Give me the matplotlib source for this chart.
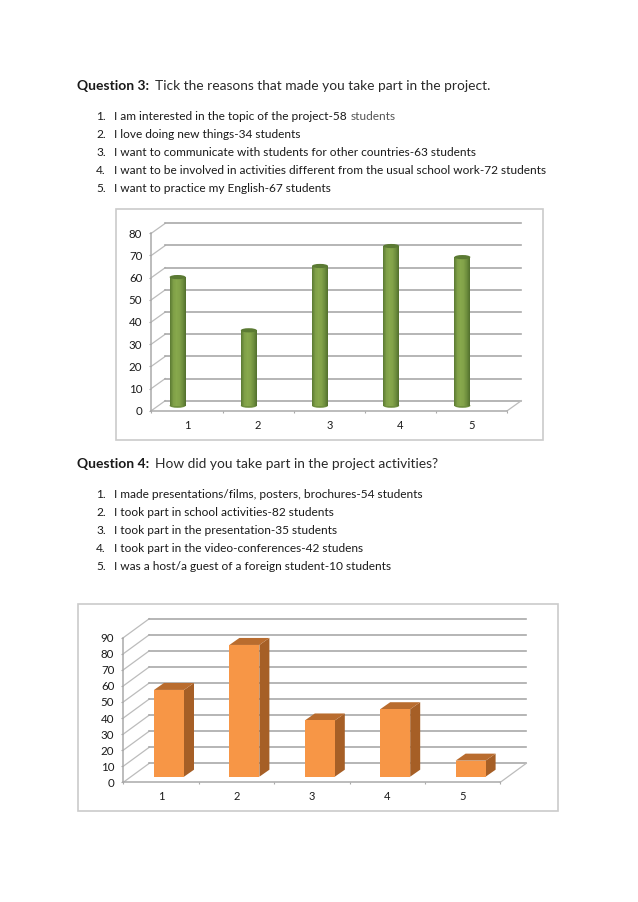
#!/usr/bin/env python3
"""Survey page: two questions with answer lists and pseudo-3D bar charts."""

import matplotlib
matplotlib.use('Agg')
import matplotlib.pyplot as plt
from matplotlib.patches import Ellipse, Rectangle
import numpy as np

W, H = 638, 902
plt.rcParams['font.family'] = ['Lato', 'DejaVu Sans']

# ============================================================
# Data
# ============================================================
categories = [1, 2, 3, 4, 5]
q3_values = [58, 34, 63, 72, 67]
q4_values = [54, 82, 35, 42, 10]
q3_ticks = list(range(0, 81, 10))
q4_ticks = list(range(0, 91, 10))

q3_title = "Tick the reasons that made you take part in the project."
q4_title = "How did you take part in the project activities?"
q3_items = [
    "I am interested in the topic of the project-58",
    "I love doing new things-34 students",
    "I want to communicate with students for other countries-63 students",
    "I want to be involved in activities different from the usual school work-72 students",
    "I want to practice my English-67 students",
]
q4_items = [
    "I made presentations/films, posters, brochures-54 students",
    "I took part in school activities-82 students",
    "I took part in the presentation-35 students",
    "I took part in the video-conferences-42 studens",
    "I was a host/a guest of a foreign student-10 students",
]

GRID = '#a9a9a9'
WALL = '#bcbcbc'
FRAME = '#cbcbcb'
TEXT = '#1a1a1a'

fig = plt.figure(figsize=(W / 100, H / 100), dpi=100, facecolor='white')


def put_text(x, y, s, **kw):
    # x, y in page pixels, y measured from the top
    kw.setdefault('color', TEXT)
    kw.setdefault('va', 'center')
    fig.text(x / W, 1 - y / H, s, **kw)


def frame(x0, y0, x1, y1):
    # zorder below the axes, which are drawn at zorder 0
    fig.add_artist(Rectangle((x0 / W, 1 - y1 / H), (x1 - x0) / W, (y1 - y0) / H,
                             transform=fig.transFigure, facecolor='white',
                             edgecolor=FRAME, linewidth=1.2, zorder=-1))


def question_block(y_title, number, title, items, y_items):
    put_text(77, y_title, f"Question {number}:", fontsize=10.0, fontweight='bold')
    put_text(155, y_title, title, fontsize=9.95, color='#2a2a2a')
    for i, (item, y) in enumerate(zip(items, y_items), start=1):
        put_text(96, y, f"{i}.", fontsize=8.55)
        put_text(114, y, item, fontsize=8.55)


def plane_axes(left, right, y_zero, y_top, vmax):
    ax = fig.add_axes([left / W, 1 - y_zero / H, (right - left) / W, (y_zero - y_top) / H])
    ax.set_xlim(0.5, 5.5)
    ax.set_ylim(0, vmax)
    ax.patch.set_visible(False)
    for side in ('top', 'right'):
        ax.spines[side].set_visible(False)
    for side in ('left', 'bottom'):
        ax.spines[side].set_color(GRID)
        ax.spines[side].set_linewidth(1.1)
    return ax


def draw_walls(ax, ticks, back_dx, back_dy, label_pad):
    # side wall diagonals and back wall grid, offsets in data units
    for t in ticks:
        ax.plot([0.5, 0.5 + back_dx], [t, t + back_dy], color=WALL, lw=0.9, clip_on=False, zorder=1)
        ax.plot([0.5 + back_dx, 5.5 + back_dx], [t + back_dy, t + back_dy],
                color=GRID, lw=1.2, clip_on=False, zorder=1)
    ax.plot([5.5, 5.5 + back_dx], [0, back_dy], color=WALL, lw=0.9, clip_on=False, zorder=1)
    ax.set_yticks(ticks)
    ax.set_xticks(np.arange(0.5, 6))
    ax.set_xticklabels([])
    ax.set_xticks(categories, labels=[str(c) for c in categories], minor=True)
    ax.tick_params(axis='y', length=1.5, width=0.8, color=GRID, labelsize=8.3, labelcolor=TEXT, pad=5)
    ax.tick_params(axis='x', which='major', length=1.5, width=0.8, color=GRID)
    ax.tick_params(axis='x', which='minor', length=0, labelsize=8, labelcolor=TEXT, pad=label_pad)


# ============================================================
# Text
# ============================================================
question_block(86, 3, q3_title, q3_items, [116, 134, 152, 170, 188])
put_text(351, 116, "students", fontsize=8.55, color='#555555')
question_block(464, 4, q4_title, q4_items, [494, 512, 530, 548, 566])

# ============================================================
# Chart 1: green cylinders
# ============================================================
frame(115.5, 208.5, 542.5, 440)
ax1 = plane_axes(151.3, 507.3, 410.7, 233.3, 80)
px1_x = 356 / 5
px1_y = 177.4 / 80
draw_walls(ax1, q3_ticks, 14 / px1_x, 10 / px1_y, 6.5)

shift_x = -9.3 / px1_x
shift_y = 5 / px1_y
cyl_w = 16 / px1_x
cap_h = 4.2 / px1_y
strip_pos = np.linspace(-0.5, 0.5, 17)
strip_w = cyl_w / 16
strip_cols = plt.cm.colors.LinearSegmentedColormap.from_list(
    'cyl', ['#5f7e35', '#7f9f47', '#87a84c', '#82a249', '#6f8f3e', '#55732f'])

for c, v in zip(categories, q3_values):
    cx = c + shift_x
    # rounded foot first, then body strips, then the cap
    ax1.add_patch(Ellipse((cx, shift_y), cyl_w, cap_h, facecolor='#6f8f3e', edgecolor='none', zorder=3, clip_on=False))
    for i in range(16):
        ax1.bar(cx + (strip_pos[i] + 0.5 / 16) * cyl_w, v, width=strip_w * 1.05, bottom=shift_y,
                color=strip_cols(i / 15), linewidth=0, zorder=4, clip_on=False)
    ax1.add_patch(Ellipse((cx, v + shift_y), cyl_w, cap_h, facecolor='#5b7a33', edgecolor='none', zorder=5, clip_on=False))

# ============================================================
# Chart 2: orange boxes
# ============================================================
frame(77.5, 603.5, 558, 811)
ax2 = plane_axes(123.3, 500.3, 782.3, 637.7, 90)
px2_x = 377 / 5
px2_y = 144.6 / 90
draw_walls(ax2, q4_ticks, 26 / px2_x, 19 / px2_y, 6.5)

shift_x = 8 / px2_x
shift_y = 5.6 / px2_y
box_w = 30 / px2_x
depth_x = 10 / px2_x
depth_y = 7 / px2_y

for c, v in zip(categories, q4_values):
    cx = c + shift_x
    x0, x1 = cx - box_w / 2, cx + box_w / 2
    top = v + shift_y
    ax2.bar(cx, v, width=box_w, bottom=shift_y, color='#f79646', linewidth=0, zorder=5)
    ax2.fill([x1, x1 + depth_x, x1 + depth_x, x1],
             [shift_y, shift_y + depth_y, top + depth_y, top],
             color='#a65f26', linewidth=0, zorder=4, clip_on=False)
    ax2.fill([x0, x1, x1 + depth_x, x0 + depth_x],
             [top, top, top + depth_y, top + depth_y],
             color='#b96c2e', linewidth=0, zorder=4, clip_on=False)

fig.savefig('out.png', dpi=100, facecolor='white')
